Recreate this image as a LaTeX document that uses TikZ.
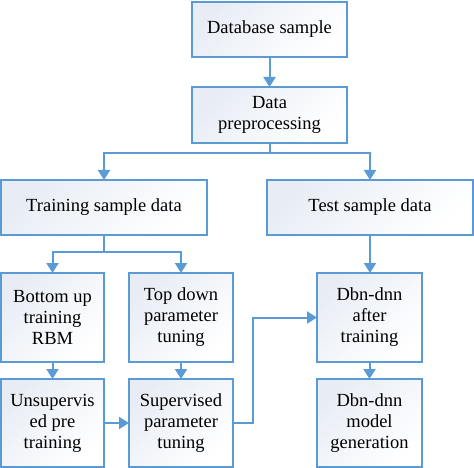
\documentclass[tikz,border=0pt]{standalone}
\usepackage{fontspec}
\setmainfont{Liberation Serif}
\usepackage{xcolor}
\usepackage{tikz}
\usetikzlibrary{positioning,calc,arrows.meta}

\definecolor{flowblue}{RGB}{91,155,213}
\definecolor{boxfill}{RGB}{232,237,245}

\begin{document}
\begin{tikzpicture}[
        x=1pt, y=-1pt,
        every node/.style={anchor=north west, outer sep=0},
        stage/.style={draw=flowblue, line width=2pt, align=center, inner sep=2pt,
            top color=boxfill, bottom color=white, shading angle=45,
            font=\fontsize{18.5}{21}\selectfont},
        wide/.style={stage, minimum width=206pt, minimum height=55pt},
        tall/.style={stage, minimum width=104pt, minimum height=89pt},
        link/.style={draw=flowblue, line width=2pt, -{Triangle[length=10pt, width=12pt]}},
    ]
        \useasboundingbox (0,0) rectangle (474,468);

        \node [stage, minimum width=155pt, minimum height=55pt] (db) at (192,2) {Database sample};
        \node [stage, minimum width=155pt, minimum height=56pt] (pre) at (192,87) {Data\\preprocessing};
        \node [wide] (train) at (1,180) {Training sample data};
        \node [wide] (test) at (267,180) {Test sample data};

        \node [tall, minimum width=103pt] (bottomup) at (1,273) {Bottom up\\training\\RBM};
        \node [tall] (topdown) at (129,273) {Top down\\parameter\\tuning};
        \node [tall, minimum width=105pt] (after) at (317,273) {Dbn-dnn\\after\\training};
        \node [tall, minimum width=103pt, minimum height=88pt] (unsup) at (1,379) {Unsupervis\\ed pre\\training};
        \node [tall, minimum height=88pt] (sup) at (129,379) {Supervised\\parameter\\tuning};
        \node [tall, minimum width=105pt, minimum height=88pt] (model) at (317,379) {Dbn-dnn\\model\\generation};

        \coordinate (split1) at ($(pre.south)+(0,10)$);
        \coordinate (split2) at ($(train.south)+(0,17)$);

        \draw [link] (db) -- (pre);
        \draw [link] (pre.south) -- (split1) -| (train.north);
        \draw [link] (split1) -| (test.north);
        \draw [link] (train.south) -- (split2) -| (bottomup.north);
        \draw [link] (split2) -| (topdown.north);
        \draw [link] (test.south) -- (after.north -| test.south);
        \draw [link] (bottomup) -- (unsup);
        \draw [link] (topdown) -- (sup);
        \draw [link] (after) -- (model);
        \draw [link] (unsup) -- (sup);
        \draw [link] (sup.east) -- ++(20,0) |- (after.west);
    \end{tikzpicture}
\end{document}
